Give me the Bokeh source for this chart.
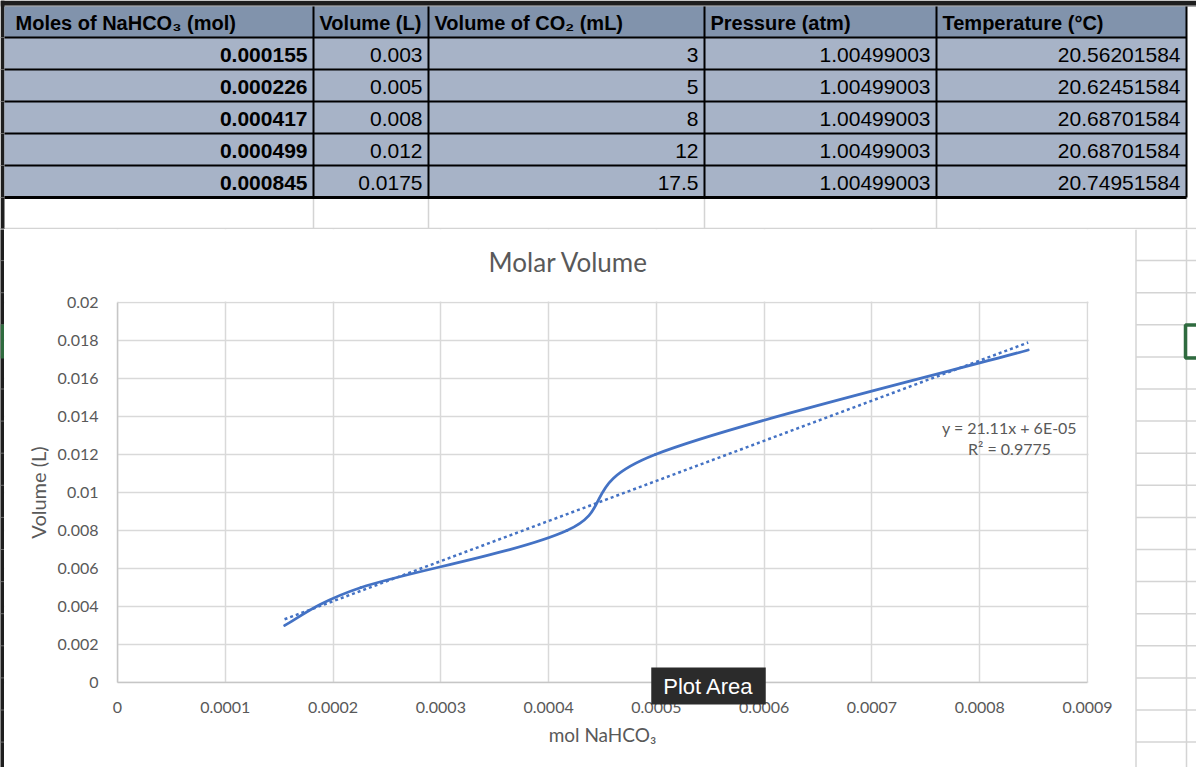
import numpy as np
from bokeh.plotting import figure
from bokeh.models import Range1d, FixedTicker, Label
from bokeh.layouts import column, row
from bokeh.embed import file_html
from bokeh.resources import INLINE
from bokeh.core.properties import value

# ---------------- data ----------------
table_headers = ["Moles of NaHCO₃ (mol)", "Volume (L)", "Volume of CO₂ (mL)",
                 "Pressure (atm)", "Temperature (°C)"]
moles_nahco3 = [0.000155, 0.000226, 0.000417, 0.000499, 0.000845]
volume_l = [0.003, 0.005, 0.008, 0.012, 0.0175]
volume_co2_ml = [3, 5, 8, 12, 17.5]
pressure_atm = [1.00499003, 1.00499003, 1.00499003, 1.00499003, 1.00499003]
temperature_c = [20.56201584, 20.62451584, 20.68701584, 20.68701584, 20.74951584]

x_ticks = [0, 0.0001, 0.0002, 0.0003, 0.0004, 0.0005, 0.0006, 0.0007, 0.0008, 0.0009]
x_tick_labels = ["0", "0.0001", "0.0002", "0.0003", "0.0004", "0.0005",
                 "0.0006", "0.0007", "0.0008", "0.0009"]
y_ticks = [0, 0.002, 0.004, 0.006, 0.008, 0.01, 0.012, 0.014, 0.016, 0.018, 0.02]
y_tick_labels = ["0", "0.002", "0.004", "0.006", "0.008", "0.01", "0.012",
                 "0.014", "0.016", "0.018", "0.02"]

chart_title = "Molar Volume"
x_title = "mol NaHCO₃"
y_title = "Volume (L)"
tooltip_text = "Plot Area"

GRAY_TXT = "#595959"
BLUE = "#4472C4"
GRID = "#d9d9d9"
SHEET = "#d4d4d4"
DARK = "#1e1e1e"
W, H = 1196, 767
TABLE_H = 229

# ---------------- table (spreadsheet) ----------------
col_edges = [4, 313, 428, 704, 936, 1186]
header_top, header_bottom = 6, 37
row_h = 32
n = len(moles_nahco3)
row_tops = [header_bottom + i * row_h for i in range(n)]
row_bottoms = [t + row_h for t in row_tops]
row_mid = [t + row_h / 2 for t in row_tops]
table_bottom = row_bottoms[-1]

tf = figure(width=W, height=TABLE_H, x_range=Range1d(0, W), y_range=Range1d(TABLE_H, 0),
            x_axis_type=None, y_axis_type=None, min_border=0, title=None,
            toolbar_location=None, output_backend="svg", outline_line_color=None)

# dark window chrome (top band, left strip)
tf.quad(left=0, right=W, top=0, bottom=5, fill_color=DARK, line_color=None)
tf.segment(x0=[0], y0=[5.5], x1=[W], y1=[5.5], line_color="#5a5a5a", line_width=1)
tf.quad(left=0, right=4, top=0, bottom=TABLE_H, fill_color=DARK, line_color=None)

tf.quad(left=col_edges[0], right=col_edges[-1], top=header_top, bottom=header_bottom,
        fill_color="#8193ac", line_color=None)
tf.quad(left=[col_edges[0]] * n, right=[col_edges[-1]] * n, top=row_tops, bottom=row_bottoms,
        fill_color="#a7b3c7", line_color=None)

# light sheet grid in the empty row below
tf.segment(x0=col_edges[1:], y0=[table_bottom] * 5, x1=col_edges[1:], y1=[228] * 5,
           line_color=SHEET, line_width=1.5)
tf.segment(x0=[4], y0=[228], x1=[W], y1=[228], line_color=SHEET, line_width=1.5)

# black borders
h_lines = [header_bottom] + row_bottoms[:-1]
tf.segment(x0=[col_edges[0]] * len(h_lines), y0=h_lines, x1=[col_edges[-1]] * len(h_lines),
           y1=h_lines, line_color="black", line_width=2)
tf.segment(x0=[col_edges[0]], y0=[table_bottom], x1=[col_edges[-1]], y1=[table_bottom],
           line_color="black", line_width=3)
tf.segment(x0=col_edges[1:], y0=[header_top] * 5, x1=col_edges[1:], y1=[table_bottom] * 5,
           line_color="black", line_width=2)
# row marks in left strip
marks = [header_bottom] + row_bottoms + [228]
tf.segment(x0=[0] * len(marks), y0=marks, x1=[4] * len(marks), y1=marks,
           line_color="#6a6a6a", line_width=1)

hx = [col_edges[0] + 11] + [e + 6 for e in col_edges[1:-1]]
tf.text(x=hx, y=[(header_top + header_bottom) / 2 + 1] * 5, text=table_headers,
        text_font=value("Liberation Sans"), text_font_style="bold", text_font_size="20px",
        text_color="black", text_align="left", text_baseline="middle")

columns = [moles_nahco3, volume_l, volume_co2_ml, pressure_atm, temperature_c]
for j, vals in enumerate(columns):
    tf.text(x=[col_edges[j + 1] - 6] * n, y=[m + 1 for m in row_mid], text=[str(v) for v in vals],
            text_font=value("Liberation Sans"),
            text_font_style="bold" if j == 0 else "normal", text_font_size="21px",
            text_color="black", text_align="right", text_baseline="middle")

# ---------------- chart ----------------
# chart object spans page x 4..1134, y 229..767; plot area x 117..1087, y 302..682
CX0, CX1, CY0, CY1 = 4, 1134, TABLE_H, H
PX0, PX1, PY0, PY1 = 117, 1087, 302, 682
X_MAX, Y_MAX = x_ticks[-1], y_ticks[-1]
xpp = X_MAX / (PX1 - PX0)
ypp = Y_MAX / (PY1 - PY0)
x_rng = Range1d(-(PX0 - CX0) * xpp, X_MAX + (CX1 - PX1) * xpp)
y_rng = Range1d(-(CY1 - PY1) * ypp, Y_MAX + (PY0 - CY0) * ypp)

cf = figure(width=CX1 - CX0, height=CY1 - CY0, x_range=x_rng, y_range=y_rng,
            min_border=0, title=None, toolbar_location=None, output_backend="svg",
            background_fill_color="white", border_fill_color="white",
            outline_line_color=None)

cf.xaxis.ticker = FixedTicker(ticks=x_ticks)
cf.yaxis.ticker = FixedTicker(ticks=y_ticks)
cf.xaxis.major_label_overrides = dict(zip(x_ticks, x_tick_labels))
cf.yaxis.major_label_overrides = dict(zip(y_ticks, y_tick_labels))
cf.xaxis.fixed_location = 0
cf.yaxis.fixed_location = 0
cf.xaxis.bounds = (0, X_MAX)
cf.yaxis.bounds = (0, Y_MAX)
cf.xgrid.ticker = FixedTicker(ticks=x_ticks)
cf.ygrid.ticker = FixedTicker(ticks=y_ticks)
for g in (cf.xgrid, cf.ygrid):
    g.grid_line_color = GRID
    g.grid_line_width = 1.5

for ax in (cf.xaxis, cf.yaxis):
    ax.major_tick_line_color = None
    ax.minor_tick_line_color = None
    ax.major_tick_out = 0
    ax.major_tick_in = 0
    ax.axis_line_color = "#c6c6c6"
    ax.axis_line_width = 1.5
    ax.major_label_text_font = "Lato"
    ax.major_label_text_font_size = "16px"
    ax.major_label_text_color = GRAY_TXT
    ax.axis_label_text_font = "Lato"
    ax.axis_label_text_font_style = "normal"
    ax.axis_label_text_color = GRAY_TXT

cf.xaxis.axis_label = x_title
cf.yaxis.axis_label = y_title
cf.xaxis.axis_label_text_font_size = "19px"
cf.yaxis.axis_label_text_font_size = "20px"
cf.xaxis.major_label_standoff = 19
cf.yaxis.major_label_standoff = 19
cf.xaxis.axis_label_standoff = 7
cf.yaxis.axis_label_standoff = 5

# white cover outside the plot area (grid lines span the whole frame)
xs0, xs1 = x_rng.start, x_rng.end
ys0, ys1 = y_rng.start, y_rng.end
cf.quad(left=[xs0, xs0, xs0, X_MAX + xpp], right=[0, xs1, xs1, xs1],
        bottom=[ys0, ys0, Y_MAX + ypp, ys0], top=[ys1, 0, ys1, ys1],
        fill_color="white", line_color=None)

# smoothed series (Excel-style Bezier through the points)
xs = np.array(moles_nahco3, dtype=float)
ys = np.array(volume_l, dtype=float)
P = np.column_stack([xs, ys])
Pext = np.vstack([P[0], P, P[-1]])
c1 = P[:-1] + (Pext[2:n + 1] - Pext[0:n - 1]) / 6.0
c2 = P[1:] - (Pext[3:n + 2] - Pext[1:n]) / 6.0
cf.bezier(x0=P[:-1, 0], y0=P[:-1, 1], x1=P[1:, 0], y1=P[1:, 1],
          cx0=c1[:, 0], cy0=c1[:, 1], cx1=c2[:, 0], cy1=c2[:, 1],
          line_color=BLUE, line_width=2.75, line_cap="round")

# linear trendline
slope, intercept = np.polyfit(xs, ys, 1)
pred = slope * xs + intercept
r2 = 1 - np.sum((ys - pred) ** 2) / np.sum((ys - ys.mean()) ** 2)
tx = np.array([xs.min(), xs.max()])
cf.line(tx, slope * tx + intercept, line_color=BLUE, line_width=2.5, line_dash="3 3")

eq_text = f"y = {slope:.2f}x + {intercept:.0E}"
r2_text = f"R² = {r2:.4f}"
lab_x = (1009 - PX0) * xpp
for txt, py in ((eq_text, 426.5), (r2_text, 447.5)):
    cf.add_layout(Label(x=lab_x, y=(PY1 - py) * ypp, text=txt, text_font="Lato",
                        text_font_size="16px", text_color=GRAY_TXT,
                        text_align="center", text_baseline="middle"))

cf.add_layout(Label(x=(568 - PX0) * xpp, y=(PY1 - 261) * ypp, text=chart_title,
                    text_font="Lato", text_font_size="26px", text_color=GRAY_TXT,
                    text_align="center", text_baseline="middle"))

# Excel hover tooltip
cf.add_layout(Label(x=(708 - PX0) * xpp, y=(PY1 - 685.5) * ypp, text=tooltip_text,
                    text_font="Liberation Sans", text_font_size="22px", text_color="white",
                    text_align="center", text_baseline="middle",
                    background_fill_color="#2b2b2b", background_fill_alpha=1.0,
                    padding=dict(left=12, right=12, top=6, bottom=6)))

# ---------------- left window strip ----------------
row_lines = 228 + 32.1 * np.arange(17)
lf = figure(width=4, height=CY1 - CY0, x_range=Range1d(0, 4), y_range=Range1d(CY1, CY0),
            x_axis_type=None, y_axis_type=None, min_border=0, title=None,
            toolbar_location=None, output_backend="svg", outline_line_color=None,
            background_fill_color=DARK, border_fill_color=DARK)
lf.segment(x0=[0] * len(row_lines), y0=row_lines, x1=[4] * len(row_lines), y1=row_lines,
           line_color="#6a6a6a", line_width=1)
lf.quad(left=0, right=4, top=324, bottom=358, fill_color="#2f6b3f", line_color=None)

# ---------------- sheet cells to the right of the chart ----------------
sf = figure(width=W - CX1, height=CY1 - CY0, x_range=Range1d(CX1, W), y_range=Range1d(CY1, CY0),
            x_axis_type=None, y_axis_type=None, min_border=0, title=None,
            toolbar_location=None, output_backend="svg", outline_line_color=None)
sf.segment(x0=[1135.5] * len(row_lines), y0=row_lines, x1=[W] * len(row_lines), y1=row_lines,
           line_color=SHEET, line_width=1.5)
sf.segment(x0=[1135.5, 1186], y0=[CY0, CY0], x1=[1135.5, 1186], y1=[CY1, CY1],
           line_color=SHEET, line_width=1.5)
sf.line(x=[W, 1185, 1185, W], y=[324.5, 324.5, 357.5, 357.5],
        line_color="#2f6b3f", line_width=3.5)

layout = column(tf, row(lf, cf, sf, spacing=0), spacing=0)
open("out.html", "w").write(file_html(layout, INLINE))
